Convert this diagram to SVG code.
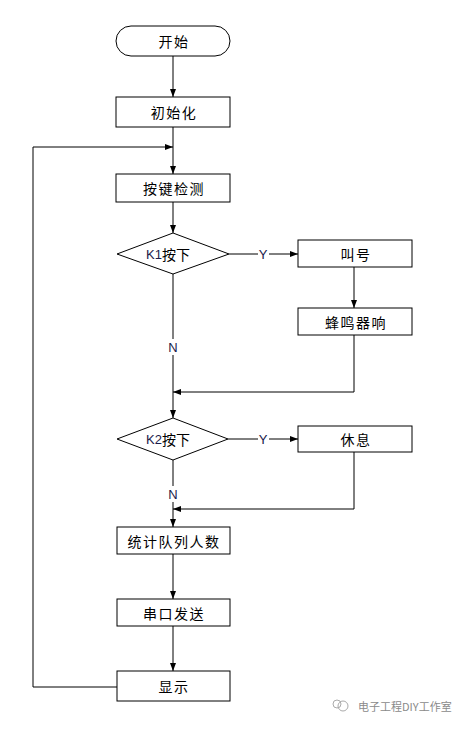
<svg xmlns="http://www.w3.org/2000/svg" width="467" height="729" viewBox="0 0 467 729">
<style>
.box{fill:#fff;stroke:#000;stroke-width:1}
.t{font-family:"Noto Sans CJK SC","Liberation Sans",sans-serif;font-size:14px;letter-spacing:1.5px;fill:#000;text-anchor:middle;dominant-baseline:central}
.lbl{font-family:"Liberation Sans","Noto Sans CJK SC",sans-serif;font-size:13px;fill:#1a1a4a;text-anchor:middle;dominant-baseline:central}
.ln{fill:none;stroke:#000;stroke-width:1}
.wm{font-family:"Noto Sans CJK SC",sans-serif;font-size:11px;fill:#8a8a8a;dominant-baseline:central}
</style>
<defs>
<marker id="arr" viewBox="0 0 8 8" refX="8" refY="4" markerWidth="8" markerHeight="8" markerUnits="userSpaceOnUse" orient="auto">
<path d="M0,1 L8,4 L0,7 Z" fill="#000"/>
</marker>
</defs>
<rect width="467" height="729" fill="#fff"/>
<g id="connectors">
<line class="ln" x1="173" y1="56" x2="173" y2="97" marker-end="url(#arr)"/>
<line class="ln" x1="173" y1="127" x2="173" y2="174" marker-end="url(#arr)"/>
<polyline class="ln" points="117,687 33,687 33,147 173,147" marker-end="url(#arr)"/>
<line class="ln" x1="173" y1="202" x2="173" y2="233" marker-end="url(#arr)"/>
<line class="ln" x1="229" y1="254" x2="298" y2="254" marker-end="url(#arr)"/>
<line class="ln" x1="354" y1="267" x2="354" y2="308" marker-end="url(#arr)"/>
<polyline class="ln" points="354,335 354,392 173,392" marker-end="url(#arr)"/>
<line class="ln" x1="173" y1="274" x2="173" y2="418" marker-end="url(#arr)"/>
<line class="ln" x1="228" y1="439" x2="298" y2="439" marker-end="url(#arr)"/>
<polyline class="ln" points="354,452 354,509 173,509" marker-end="url(#arr)"/>
<line class="ln" x1="173" y1="460" x2="173" y2="527" marker-end="url(#arr)"/>
<line class="ln" x1="173" y1="554" x2="173" y2="599" marker-end="url(#arr)"/>
<line class="ln" x1="173" y1="626" x2="173" y2="671" marker-end="url(#arr)"/>
<rect x="258" y="246" width="11" height="16" fill="#fff"/>
<text class="lbl" x="263" y="254">Y</text>
<rect x="258" y="431" width="11" height="16" fill="#fff"/>
<text class="lbl" x="263" y="439">Y</text>
<rect x="167" y="339" width="12" height="16" fill="#fff"/>
<text class="lbl" x="173" y="347">N</text>
<rect x="167" y="486" width="12" height="16" fill="#fff"/>
<text class="lbl" x="173" y="494">N</text>
</g>
<g id="start">
<rect class="box" x="116" y="26" width="114" height="30" rx="15" ry="15"/>
<text class="t" x="174" y="41">开始</text>
</g>
<g id="init">
<rect class="box" x="116" y="97" width="114" height="30"/>
<text class="t" x="174" y="112">初始化</text>
</g>
<g id="keyscan">
<rect class="box" x="116" y="174" width="114" height="28"/>
<text class="t" x="174" y="188">按键检测</text>
</g>
<g id="k1">
<polygon class="box" points="173,233 229,254 173,274 117,254"/>
<text class="lbl" x="168" y="254">K1<tspan font-family="Noto Sans CJK SC" font-size="14px" fill="#000">按下</tspan></text>
</g>
<g id="call">
<rect class="box" x="298" y="240" width="114" height="27"/>
<text class="t" x="356" y="253.5">叫号</text>
</g>
<g id="buzzer">
<rect class="box" x="298" y="308" width="114" height="27"/>
<text class="t" x="356" y="321.5">蜂鸣器响</text>
</g>
<g id="k2">
<polygon class="box" points="173,418 228,439 173,460 117,439"/>
<text class="lbl" x="168" y="439">K2<tspan font-family="Noto Sans CJK SC" font-size="14px" fill="#000">按下</tspan></text>
</g>
<g id="rest">
<rect class="box" x="298" y="426" width="114" height="26"/>
<text class="t" x="356" y="439">休息</text>
</g>
<g id="count">
<rect class="box" x="117" y="527" width="113" height="27"/>
<text class="t" x="174" y="540.5">统计队列人数</text>
</g>
<g id="serial">
<rect class="box" x="117" y="599" width="113" height="27"/>
<text class="t" x="174" y="612.5">串口发送</text>
</g>
<g id="display">
<rect class="box" x="117" y="671" width="113" height="30"/>
<text class="t" x="174" y="686">显示</text>
</g>
<g id="watermark">
<circle cx="343" cy="706" r="5" fill="none" stroke="#aaa" stroke-width="1"/>
<circle cx="337" cy="704" r="4" fill="none" stroke="#aaa" stroke-width="1"/>
<text class="wm" x="358" y="706">电子工程DIY工作室</text>
</g>
</svg>
